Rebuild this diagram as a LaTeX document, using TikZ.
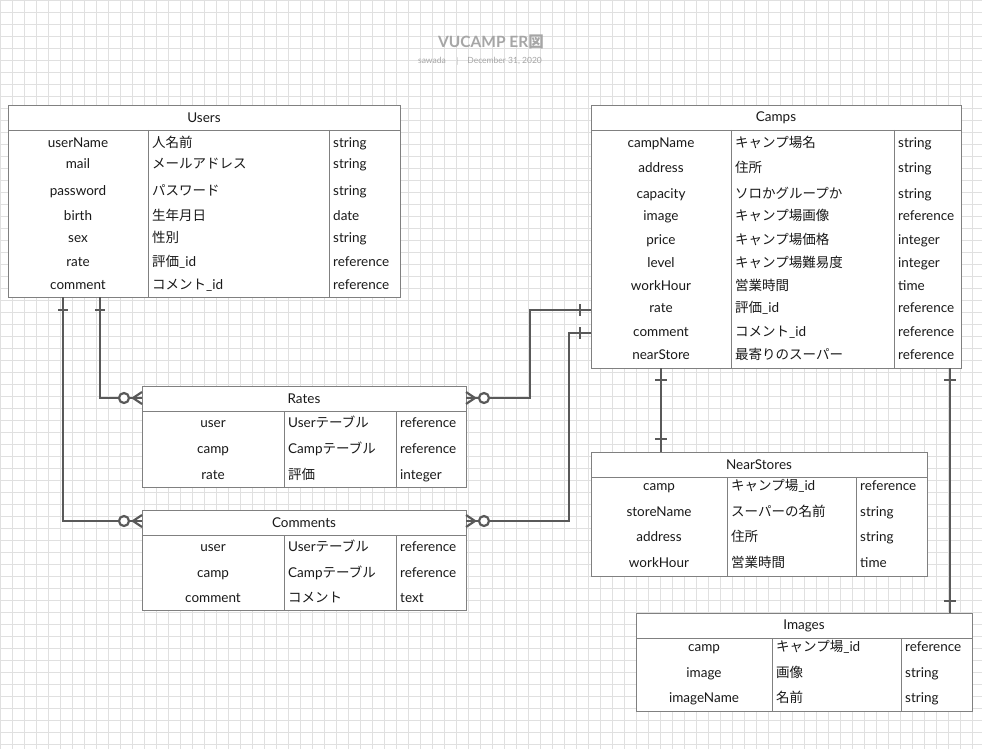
\documentclass[tikz,border=0pt]{standalone}
\usepackage{fontspec}
\usetikzlibrary{calc}
\setmainfont{Lato}
\newfontfamily\jpf{Noto Sans CJK JP}
\newcommand\jp[1]{{\jpf #1}}
\begin{document}
\begin{tikzpicture}[x=1pt,y=-1pt,
  hdr/.style={draw=black!50,fill=white,inner sep=0,outer sep=0,minimum height=25pt,text=black!90,font=\fontsize{13.5}{15}\selectfont},
  bdy/.style={draw=black!50,fill=white,inner sep=0,outer sep=0},
  sep/.style={draw=black!50},
  txt/.style={inner sep=0,text height=10pt,text depth=3pt,text=black!90,font=\fontsize{13.5}{15}\selectfont},
  con/.style={draw=black!65,line width=2.6pt},
  mk/.style={draw=black!65,line width=2.2pt}]
\useasboundingbox (0,0) rectangle (982,749);
\fill[white] (0,0) rectangle (982,749);
\foreach \i in {0,...,82} \draw[black!12,line width=0.7pt] (\i*12,0) -- (\i*12,749);
\foreach \i in {0,...,63} \draw[black!12,line width=0.7pt] (0,\i*12) -- (982,\i*12);
\node[font=\bfseries\fontsize{15.5}{17}\selectfont,text=black!35] (title) at (491,42) {VUCAMP ER\jp{図}};
\node[font=\fontsize{8.5}{10}\selectfont,text=black!35] (sub) at (480,61) {sawada \quad$|$\quad December 31, 2020};
\newcommand\ertab[8]{%
 \pgfmathsetmacro\w{#6-#3}\pgfmathsetmacro\bh{#8-#7-25}%
 \node[hdr,minimum width=\w pt,anchor=north west] (#1-h) at (#3,#7) {#2};
 \node[bdy,minimum width=\w pt,minimum height=\bh pt,anchor=north west] (#1) at (#3,#7+25) {};
 \draw[sep] (#4,#7+25) -- (#4,#8); \draw[sep] (#5,#7+25) -- (#5,#8);}
\newcommand\errow[7]{%
 \pgfmathsetmacro\cx{(#2+#3)/2}%
 \node[txt] at (\cx,#1) {#5};
 \node[txt,anchor=west] at (#3+4,#1) {#6};
 \node[txt,anchor=west] at (#4+4,#1) {#7};}
% Users
\ertab{users}{Users}{8}{148}{329}{400}{105}{297}
\errow{144}{8}{148}{329}{userName}{\jp{人名前}}{string}
\errow{165}{8}{148}{329}{mail}{\jp{メールアドレス}}{string}
\errow{192}{8}{148}{329}{password}{\jp{パスワード}}{string}
\errow{217}{8}{148}{329}{birth}{\jp{生年月日}}{date}
\errow{239}{8}{148}{329}{sex}{\jp{性別}}{string}
\errow{263}{8}{148}{329}{rate}{\jp{評価}\_id}{reference}
\errow{286}{8}{148}{329}{comment}{\jp{コメント}\_id}{reference}
% Camps
\ertab{camps}{Camps}{591}{731}{894}{961}{105}{368}
\errow{144}{591}{731}{894}{campName}{\jp{キャンプ場名}}{string}
\errow{169}{591}{731}{894}{address}{\jp{住所}}{string}
\errow{195}{591}{731}{894}{capacity}{\jp{ソロかグループか}}{string}
\errow{217}{591}{731}{894}{image}{\jp{キャンプ場画像}}{reference}
\errow{241}{591}{731}{894}{price}{\jp{キャンプ場価格}}{integer}
\errow{264}{591}{731}{894}{level}{\jp{キャンプ場難易度}}{integer}
\errow{287}{591}{731}{894}{workHour}{\jp{営業時間}}{time}
\errow{309}{591}{731}{894}{rate}{\jp{評価}\_id}{reference}
\errow{333}{591}{731}{894}{comment}{\jp{コメント}\_id}{reference}
\errow{356}{591}{731}{894}{nearStore}{\jp{最寄りのスーパー}}{reference}
% Rates
\ertab{rates}{Rates}{142}{284}{396}{466}{386}{487}
\errow{424}{142}{284}{396}{user}{User\jp{テーブル}}{reference}
\errow{450}{142}{284}{396}{camp}{Camp\jp{テーブル}}{reference}
\errow{476}{142}{284}{396}{rate}{\jp{評価}}{integer}
% Comments
\ertab{comments}{Comments}{142}{284}{396}{466}{510}{610}
\errow{548}{142}{284}{396}{user}{User\jp{テーブル}}{reference}
\errow{574}{142}{284}{396}{camp}{Camp\jp{テーブル}}{reference}
\errow{599}{142}{284}{396}{comment}{\jp{コメント}}{text}
% NearStores
\ertab{near}{NearStores}{591}{727}{856}{927}{452}{576}
\errow{487}{591}{727}{856}{camp}{\jp{キャンプ場}\_id}{reference}
\errow{513}{591}{727}{856}{storeName}{\jp{スーパーの名前}}{string}
\errow{538}{591}{727}{856}{address}{\jp{住所}}{string}
\errow{564}{591}{727}{856}{workHour}{\jp{営業時間}}{time}
% Images
\ertab{images}{Images}{636}{772}{901}{972}{613}{711}
\errow{648}{636}{772}{901}{camp}{\jp{キャンプ場}\_id}{reference}
\errow{674}{636}{772}{901}{image}{\jp{画像}}{string}
\errow{699}{636}{772}{901}{imageName}{\jp{名前}}{string}
% connectors
\coordinate (u1) at (100,297); \coordinate (u2) at (63,297);
\coordinate (r1) at (142,398); \coordinate (c1) at (142,521);
\coordinate (r2) at (466,398); \coordinate (c2) at (466,521);
\coordinate (k1) at (591,310); \coordinate (k2) at (591,333);
\draw[con] (u1) |- (r1);
\draw[con] (u2) |- (c1);
\draw[con] (k1) -- (530,310) |- (r2);
\draw[con] (k2) -- (569,333) |- (c2);
\draw[con] (661,368) -- (661,452);
\draw[con] (950,368) -- (950,613);
% one marks
\draw[mk] (95,310) -- (105,310); \draw[mk] (58,310) -- (68,310);
\draw[mk] (580,304) -- (580,316); \draw[mk] (580,327) -- (580,339);
\draw[mk] (655,380) -- (667,380); \draw[mk] (655,439) -- (667,439);
\draw[mk] (944,380) -- (956,380); \draw[mk] (944,601) -- (956,601);
% zero-many marks
\foreach \p/\s in {r1/-1,c1/-1,r2/1,c2/1}{
  \draw[mk,fill=white] ($(\p)+(\s*18,0)$) circle (5);
  \draw[mk] ($(\p)+(\s*9,0)$) -- ($(\p)+(0,-6)$);
  \draw[mk] ($(\p)+(\s*9,0)$) -- ($(\p)+(0,6)$);
}
\end{tikzpicture}
\end{document}
